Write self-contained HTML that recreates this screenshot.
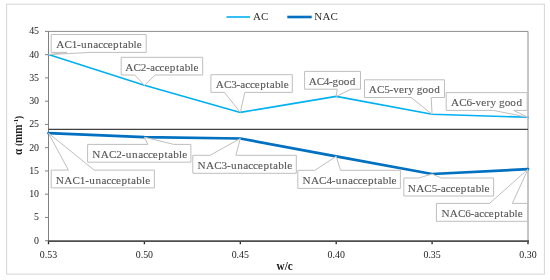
<!DOCTYPE html><html><head><meta charset="utf-8"><style>html,body{margin:0;padding:0;background:#fff;}svg{display:block;}</style></head><body>
<svg width="550" height="280" viewBox="0 0 550 280">
<rect x="0" y="0" width="550" height="280" fill="#fff"/>
<rect x="6.6" y="4.2" width="537.8" height="269.9" fill="none" stroke="#d9d9d9" stroke-width="1.1"/>
<path d="M48.5,31.4 H528 V241" fill="none" stroke="#8c8c8c" stroke-width="1"/>
<path d="M48.5,31 V241" fill="none" stroke="#808080" stroke-width="1"/>
<path d="M45,240.7 H48.5 M45,217.44 H48.5 M45,194.19 H48.5 M45,170.93 H48.5 M45,147.68 H48.5 M45,124.42 H48.5 M45,101.17 H48.5 M45,77.91 H48.5 M45,54.66 H48.5 M45,31.4 H48.5 " fill="none" stroke="#808080" stroke-width="1"/>
<path d="M48.5,241 V244.2 M144.4,241 V244.2 M240.3,241 V244.2 M336.2,241 V244.2 M432.1,241 V244.2 M528,241 V244.2 " fill="none" stroke="#262626" stroke-width="1.3"/>
<path d="M48.5,129.35 H528" fill="none" stroke="#404040" stroke-width="1.2"/>
<path d="M48,241.1 H529" fill="none" stroke="#4d4d4d" stroke-width="1.6"/>
<polyline points="48.5,54.6 144.4,85.3 240.3,112.4 336.2,96.4 432.1,114.3 528,117.3" fill="none" stroke="#00b0f0" stroke-width="1.6" stroke-linejoin="round" stroke-linecap="round"/>
<polyline points="48.5,133.2 144.4,137.2 240.3,138.5 336.2,156.3 432.1,174 528,169.2" fill="none" stroke="#0070c0" stroke-width="2.7" stroke-linejoin="round" stroke-linecap="round"/>
<path d="M51.2,34.5 H146.2 V52.4 H90.78 L48.5,54.6 L67.03,52.4 H51.2 Z" fill="#fff" stroke="#bfbfbf" stroke-width="1"/>
<path d="M121.2,57.3 H202.7 V75 H155.16 L144.4,85.3 L134.78,75 H121.2 Z" fill="#fff" stroke="#bfbfbf" stroke-width="1"/>
<path d="M210.9,74.7 H292.3 V92.4 H244.82 L240.3,112.4 L224.47,92.4 H210.9 Z" fill="#fff" stroke="#bfbfbf" stroke-width="1"/>
<path d="M304.6,71.4 H360.5 V89.2 H351.18 L336.2,96.4 L337.21,89.2 H304.6 Z" fill="#fff" stroke="#bfbfbf" stroke-width="1"/>
<path d="M364.5,79.8 H444.5 V97.5 H431.17 L432.1,114.3 L411.17,97.5 H364.5 Z" fill="#fff" stroke="#bfbfbf" stroke-width="1"/>
<path d="M446.2,92.6 H527.2 V110.4 H513.7 L528,117.3 L493.45,110.4 H446.2 Z" fill="#fff" stroke="#bfbfbf" stroke-width="1"/>
<path d="M51.2,170.1 H68.4 L48.5,133.2 L94.2,170.1 H154.4 V187.9 H51.2 Z" fill="#fff" stroke="#bfbfbf" stroke-width="1"/>
<path d="M87.6,144.4 H147.86 L144.4,137.2 L173.68,144.4 H190.9 V162.2 H87.6 Z" fill="#fff" stroke="#bfbfbf" stroke-width="1"/>
<path d="M192.8,155.3 H210.05 L240.3,138.5 L235.93,155.3 H296.3 V173.3 H192.8 Z" fill="#fff" stroke="#bfbfbf" stroke-width="1"/>
<path d="M297.8,170.3 H314.9 L336.2,156.3 L340.55,170.3 H400.4 V188.4 H297.8 Z" fill="#fff" stroke="#bfbfbf" stroke-width="1"/>
<path d="M403.8,178 H418.77 L432.1,174 L441.22,178 H493.6 V196 H403.8 Z" fill="#fff" stroke="#bfbfbf" stroke-width="1"/>
<path d="M436.4,203.4 H489.54 L528,169.2 L512.32,203.4 H527.5 V221.3 H436.4 Z" fill="#fff" stroke="#bfbfbf" stroke-width="1"/>
<text x="56.25 64.39 71.69 77 81 87.23 93.24 98.21 102.89 107.74 113.11 119.24 122.66 127.88 133.57 136.69" y="48" font-family="'Liberation Serif', serif" font-size="11.2" fill="#555" stroke="#555" stroke-width="0.1">AC1-unacceptable</text>
<text x="125.36 133.52 140.83 146.16 149.93 154.91 159.6 164.47 169.85 175.99 179.42 184.66 190.35 193.49" y="70.6" font-family="'Liberation Serif', serif" font-size="11.2" fill="#555" stroke="#555" stroke-width="0.1">AC2-acceptable</text>
<text x="215.84 223.97 231.25 236.57 240.32 245.28 249.95 254.8 260.16 266.27 269.68 274.9 280.58 283.7" y="88" font-family="'Liberation Serif', serif" font-size="11.2" fill="#555" stroke="#555" stroke-width="0.1">AC3-acceptable</text>
<text x="308.74 316.66 323.79 328.99 332.61 338.25 343.85 349.77" y="84.8" font-family="'Liberation Serif', serif" font-size="11.2" fill="#555" stroke="#555" stroke-width="0.1">AC4-good</text>
<text x="368.83 376.91 384.17 389.47 393.23 399.01 404.2 408.24 413.86 416.67 422.44 428.15 434.2" y="93.1" font-family="'Liberation Serif', serif" font-size="11.2" fill="#555" stroke="#555" stroke-width="0.1">AC5-very good</text>
<text x="451.12 459.2 466.45 471.74 475.49 481.26 486.45 490.48 496.09 498.9 504.66 510.36 516.41" y="106" font-family="'Liberation Serif', serif" font-size="11.2" fill="#555" stroke="#555" stroke-width="0.1">AC6-very good</text>
<text x="55.76 64.27 72.46 79.79 85.14 89.16 95.43 101.47 106.47 111.17 116.06 121.46 127.62 131.06 136.32 142.03 145.18" y="183.5" font-family="'Liberation Serif', serif" font-size="11.2" fill="#555" stroke="#555" stroke-width="0.1">NAC1-unacceptable</text>
<text x="92.18 100.76 108.99 116.36 121.74 125.79 132.1 138.18 143.21 147.94 152.86 158.3 164.48 167.95 173.25 178.99 182.16" y="157.8" font-family="'Liberation Serif', serif" font-size="11.2" fill="#555" stroke="#555" stroke-width="0.1">NAC2-unacceptable</text>
<text x="197.47 206.01 214.22 221.58 226.94 230.97 237.27 243.33 248.34 253.06 257.96 263.38 269.55 273.01 278.28 284.01 287.17" y="168.9" font-family="'Liberation Serif', serif" font-size="11.2" fill="#555" stroke="#555" stroke-width="0.1">NAC3-unacceptable</text>
<text x="302.44 310.93 319.09 326.41 331.74 335.74 342 348.02 353 357.69 362.56 367.95 374.08 377.51 382.75 388.45 391.59" y="184" font-family="'Liberation Serif', serif" font-size="11.2" fill="#555" stroke="#555" stroke-width="0.1">NAC4-unacceptable</text>
<text x="407.65 416.17 424.34 431.67 437.02 440.8 445.8 450.5 455.38 460.78 466.93 470.37 475.63 481.34 484.48" y="191.6" font-family="'Liberation Serif', serif" font-size="11.2" fill="#555" stroke="#555" stroke-width="0.1">NAC5-acceptable</text>
<text x="441.42 449.87 457.99 465.28 470.59 474.34 479.3 483.96 488.81 494.17 500.28 503.69 508.91 514.58 517.7" y="216.9" font-family="'Liberation Serif', serif" font-size="11.2" fill="#555" stroke="#555" stroke-width="0.1">NAC6-acceptable</text>
<text x="39" y="243.6" text-anchor="end" font-family="'Liberation Serif', serif" font-size="9.9" fill="#1a1a1a">0</text>
<text x="39" y="220.34" text-anchor="end" font-family="'Liberation Serif', serif" font-size="9.9" fill="#1a1a1a">5</text>
<text x="39" y="197.09" text-anchor="end" font-family="'Liberation Serif', serif" font-size="9.9" fill="#1a1a1a">10</text>
<text x="39" y="173.83" text-anchor="end" font-family="'Liberation Serif', serif" font-size="9.9" fill="#1a1a1a">15</text>
<text x="39" y="150.58" text-anchor="end" font-family="'Liberation Serif', serif" font-size="9.9" fill="#1a1a1a">20</text>
<text x="39" y="127.32" text-anchor="end" font-family="'Liberation Serif', serif" font-size="9.9" fill="#1a1a1a">25</text>
<text x="39" y="104.07" text-anchor="end" font-family="'Liberation Serif', serif" font-size="9.9" fill="#1a1a1a">30</text>
<text x="39" y="80.81" text-anchor="end" font-family="'Liberation Serif', serif" font-size="9.9" fill="#1a1a1a">35</text>
<text x="39" y="57.56" text-anchor="end" font-family="'Liberation Serif', serif" font-size="9.9" fill="#1a1a1a">40</text>
<text x="39" y="34.3" text-anchor="end" font-family="'Liberation Serif', serif" font-size="9.9" fill="#1a1a1a">45</text>
<text x="48.5" y="257.8" text-anchor="middle" font-family="'Liberation Serif', serif" font-size="9.9" fill="#1a1a1a">0.53</text>
<text x="144.4" y="257.8" text-anchor="middle" font-family="'Liberation Serif', serif" font-size="9.9" fill="#1a1a1a">0.50</text>
<text x="240.3" y="257.8" text-anchor="middle" font-family="'Liberation Serif', serif" font-size="9.9" fill="#1a1a1a">0.45</text>
<text x="336.2" y="257.8" text-anchor="middle" font-family="'Liberation Serif', serif" font-size="9.9" fill="#1a1a1a">0.40</text>
<text x="432.1" y="257.8" text-anchor="middle" font-family="'Liberation Serif', serif" font-size="9.9" fill="#1a1a1a">0.35</text>
<text x="528" y="257.8" text-anchor="middle" font-family="'Liberation Serif', serif" font-size="9.9" fill="#1a1a1a">0.30</text>
<text x="276.6" y="269.9" font-family="'Liberation Serif', serif" font-size="12" font-weight="bold" fill="#1a1a1a" textLength="16.2" lengthAdjust="spacingAndGlyphs">w/c</text>
<text transform="translate(22.4,155) rotate(-90)" font-family="'Liberation Serif', serif" font-size="12" font-weight="bold" fill="#1f1f1f" textLength="39" lengthAdjust="spacingAndGlyphs">α <tspan font-size="10">(</tspan>mm<tspan dy="-4" font-size="7">-1</tspan><tspan dy="4" font-size="10">)</tspan></text>
<path d="M226.5,17 H250" stroke="#00b0f0" stroke-width="1.6"/>
<path d="M287.3,17 H311.7" stroke="#0070c0" stroke-width="2.6"/>
<text x="252.98 261.04" y="20.3" font-family="'Liberation Serif', serif" font-size="11" fill="#2b2b2b">AC</text>
<text x="314.19 322.45 330.39" y="20.3" font-family="'Liberation Serif', serif" font-size="11" fill="#2b2b2b">NAC</text>
</svg></body></html>
